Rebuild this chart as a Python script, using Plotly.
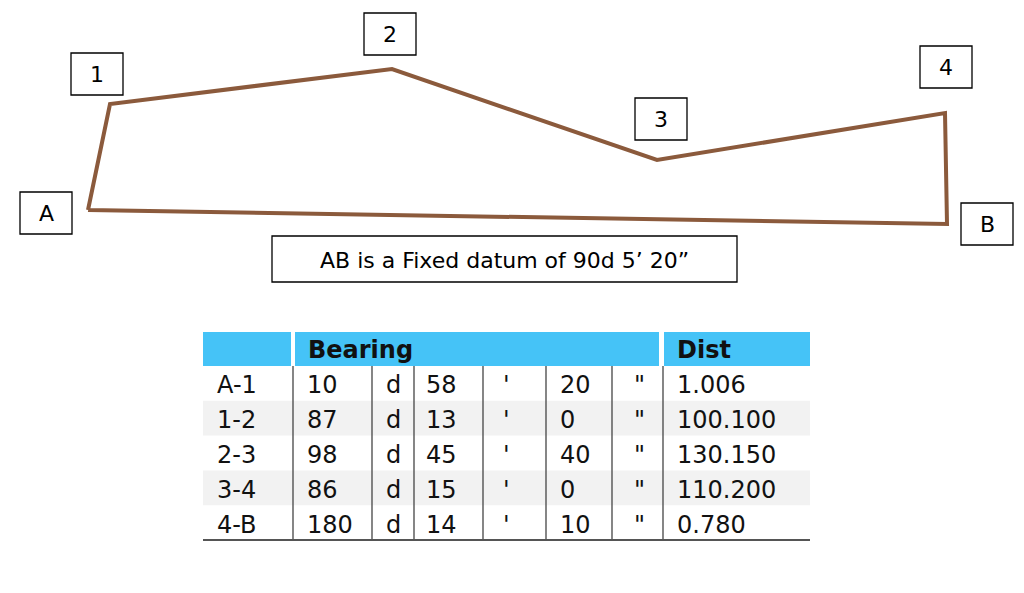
import plotly.graph_objects as go

# polygon vertices (diagram coordinates, pixel-like units)
vertex_names = ["A", "1", "2", "3", "4", "B"]
vertex_x = [88, 110, 392, 657, 945, 947]
vertex_y = [210, 104, 69, 160, 113, 224]
# label boxes: centre positions
label_cx = [46, 97, 390, 661, 946, 987]
label_cy = [213, 74, 34, 119, 67, 224]

caption = "AB is a Fixed datum of 90d 5\u2019 20\u201d"

legs = ["A-1", "1-2", "2-3", "3-4", "4-B"]
deg = ["10", "87", "98", "86", "180"]
mins = ["58", "13", "45", "15", "14"]
secs = ["20", "0", "40", "0", "10"]
dist = ["1.006", "100.100", "130.150", "110.200", "0.780"]

FONT = "DejaVu Sans"
BROWN = "#8B5A3C"

fig = go.Figure()
fig.add_trace(go.Scatter(x=vertex_x + [vertex_x[0]], y=vertex_y + [vertex_y[0]], mode="lines",
                         line=dict(color=BROWN, width=4), hoverinfo="skip"))

shapes, anns = [], []
for n, cx, cy in zip(vertex_names, label_cx, label_cy):
    shapes.append(dict(type="rect", x0=cx-26, x1=cx+26, y0=cy-21, y1=cy+21,
                       line=dict(color="black", width=1.3), fillcolor="white"))
    anns.append(dict(x=cx, y=cy, text=n, showarrow=False, font=dict(family=FONT, size=22, color="black")))

shapes.append(dict(type="rect", x0=272, x1=737, y0=236, y1=282, line=dict(color="black", width=1.3)))
anns.append(dict(x=504, y=260, text=caption, showarrow=False, font=dict(family=FONT, size=22, color="black")))

# table
edges = [203, 293, 372, 414, 483, 546, 612, 663, 810]
top, head_h, row_h = 332, 34, 34.8
BLUE = "#45C3F7"
for x0, x1 in [(203, 291), (295, 659), (664, 810)]:
    shapes.append(dict(type="rect", x0=x0, x1=x1, y0=top, y1=top+head_h, line_width=0, fillcolor=BLUE))
anns.append(dict(x=306, y=top+head_h/2+1, text="<b>Bearing</b>", xanchor="left", showarrow=False,
                 font=dict(family=FONT, size=24, color="#111")))
anns.append(dict(x=675, y=top+head_h/2+1, text="<b>Dist</b>", xanchor="left", showarrow=False,
                 font=dict(family=FONT, size=24, color="#111")))
body_top = top + head_h
for i in range(len(legs)):
    y0 = body_top + i*row_h
    if i % 2 == 1:
        shapes.append(dict(type="rect", x0=203, x1=810, y0=y0, y1=y0+row_h, line_width=0,
                           fillcolor="#F2F2F2", layer="below"))
    cells = [legs[i], deg[i], "d", mins[i], "'", secs[i], '"', dist[i]]
    offs = [12, 12, 12, 10, 18, 12, 20, 12]
    for j, t in enumerate(cells):
        anns.append(dict(x=edges[j]+offs[j], y=y0+row_h/2+2, text=t, xanchor="left", showarrow=False,
                         font=dict(family=FONT, size=24, color="#111")))
body_bot = body_top + len(legs)*row_h
for e in edges[1:-1]:
    shapes.append(dict(type="line", x0=e, x1=e, y0=body_top, y1=body_bot, line=dict(color="#444", width=1.3)))
shapes.append(dict(type="line", x0=203, x1=810, y0=body_bot, y1=body_bot, line=dict(color="#555", width=2)))

fig.update_layout(width=1024, height=593, margin=dict(l=0, r=0, t=0, b=0),
                  plot_bgcolor="white", paper_bgcolor="white", showlegend=False,
                  shapes=shapes, annotations=anns,
                  xaxis=dict(range=[8, 1032], visible=False),
                  yaxis=dict(range=[601, 8], visible=False))
fig.write_html("out.html")
